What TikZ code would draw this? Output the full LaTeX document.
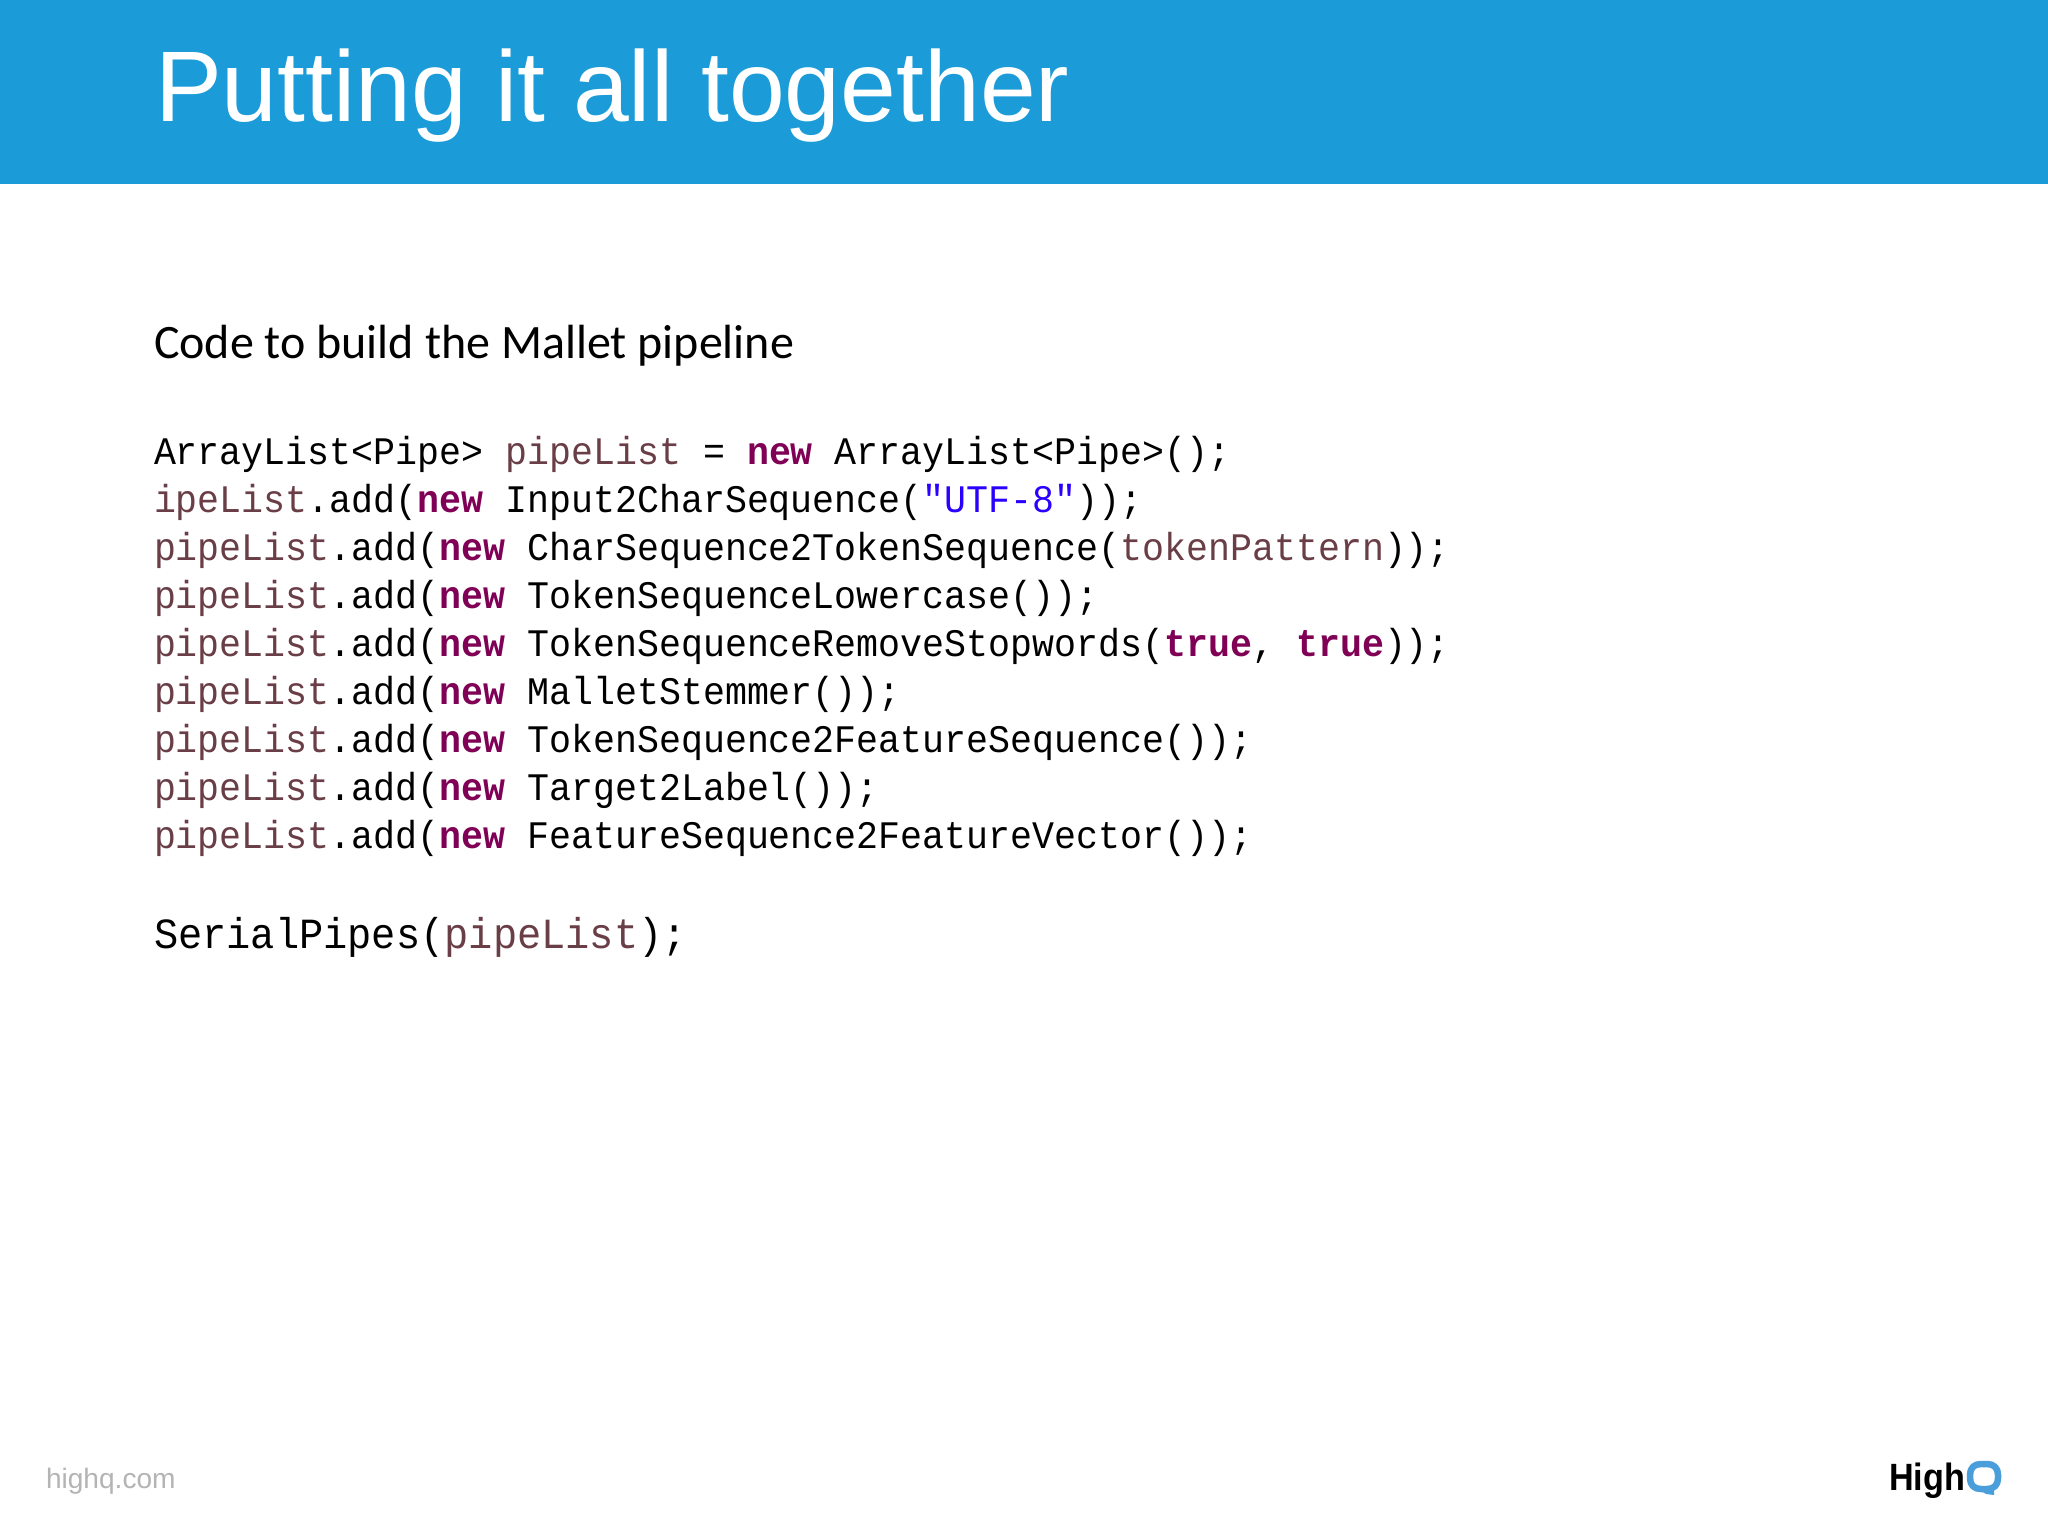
\documentclass[tikz,border=0pt]{standalone}
\usepackage{fontspec}
\setmainfont{Liberation Sans}
\newfontfamily\calibrifont{Carlito}
\newfontfamily\codefont[FakeStretch=0.9385]{Liberation Mono}
\newfontfamily\logofont[FakeStretch=0.9]{Liberation Sans}
\definecolor{headblue}{HTML}{1B9CD9}
\definecolor{varcol}{HTML}{6A3E46}
\definecolor{kwcol}{HTML}{7F0055}
\definecolor{strcol}{HTML}{2A00FF}
\definecolor{footgrey}{HTML}{B4B4B4}
\definecolor{logoblue}{HTML}{4A9FDB}
\newcommand{\pv}[1]{\textcolor{varcol}{#1}}
\newcommand{\kw}[1]{\textcolor{kwcol}{\textbf{#1}}}
\newcommand{\st}[1]{\textcolor{strcol}{#1}}
\tikzset{
  txt/.style={inner sep=0pt,outer sep=0pt,anchor=base west},
  codeline/.style={txt,font=\codefont\fontsize{39}{39}\selectfont,text=black},
  bigcode/.style={txt,font=\codefont\fontsize{43}{43}\selectfont,text=black},
}
\begin{document}
\begin{tikzpicture}[x=1pt,y=-1pt]
\useasboundingbox (0,0) rectangle (2048,1536);
\fill[white] (0,0) rectangle (2048,1536);
\fill[headblue] (0,0) rectangle (2048,184);
\node[txt,text=white,font=\fontsize{100.3}{100.3}\selectfont] (title) at (155,122) {Putting it all together};
\node[txt,text=black,font=\calibrifont\fontsize{48}{48}\selectfont] (sub) at (154,358) {Code to build the Mallet pipeline};
\node[codeline] (l1) at (154,464.5) {ArrayList<Pipe> \pv{pipeList} = \kw{new} ArrayList<Pipe>();};
\node[codeline] (l2) at (154,512.5) {\pv{ipeList}.add(\kw{new} Input2CharSequence(\st{"UTF-8"}));};
\node[codeline] (l3) at (154,560.5) {\pv{pipeList}.add(\kw{new} CharSequence2TokenSequence(\pv{tokenPattern}));};
\node[codeline] (l4) at (154,608.5) {\pv{pipeList}.add(\kw{new} TokenSequenceLowercase());};
\node[codeline] (l5) at (154,656.5) {\pv{pipeList}.add(\kw{new} TokenSequenceRemoveStopwords(\kw{true}, \kw{true}));};
\node[codeline] (l6) at (154,704.5) {\pv{pipeList}.add(\kw{new} MalletStemmer());};
\node[codeline] (l7) at (154,752.5) {\pv{pipeList}.add(\kw{new} TokenSequence2FeatureSequence());};
\node[codeline] (l8) at (154,800.5) {\pv{pipeList}.add(\kw{new} Target2Label());};
\node[codeline] (l9) at (154,848.5) {\pv{pipeList}.add(\kw{new} FeatureSequence2FeatureVector());};
\node[bigcode] (l10) at (154,948) {SerialPipes(\pv{pipeList});};
\node[txt,text=footgrey,font=\fontsize{28.1}{28.1}\selectfont] (foot) at (46,1488) {highq.com};
\node[txt,text=black,font=\logofont\bfseries\fontsize{38}{38}\selectfont] (logo) at (1889,1490) {High};
\draw[logoblue,line width=6.5pt,line join=round]
  (1981,1464) -- (1987,1464) .. controls (1994,1464) and (1998,1468) .. (1998,1475)
  -- (1998,1478) .. controls (1998,1485) and (1994,1489) .. (1987,1489)
  -- (1981,1489) .. controls (1974,1489) and (1970,1485) .. (1970,1478)
  -- (1970,1475) .. controls (1970,1468) and (1974,1464) .. (1981,1464) -- cycle;
\fill[logoblue] (1977,1488) -- (1994,1488) -- (1994,1495) -- (1986,1494) -- cycle;
\end{tikzpicture}
\end{document}
